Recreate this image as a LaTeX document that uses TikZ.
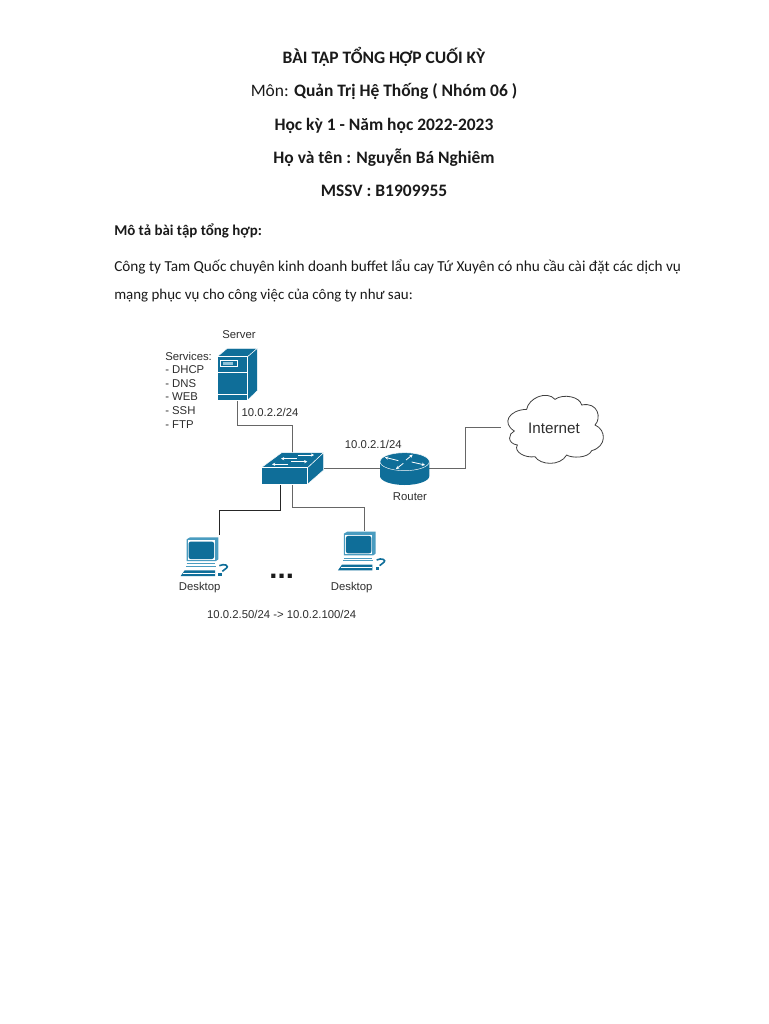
\documentclass[tikz,border=0pt]{standalone}
\usepackage{fontspec}
\setmainfont{Carlito}
\newfontfamily\diagfont{Liberation Sans}
\usetikzlibrary{arrows.meta}
\definecolor{netblue}{HTML}{0F6E99}
\definecolor{netlight}{HTML}{4A9CC0}
\definecolor{wire}{HTML}{666666}
\definecolor{inktext}{HTML}{1A1A1A}
\definecolor{labeltext}{HTML}{2E2E2E}
\tikzset{
  title/.style={anchor=base,inner sep=0pt,font=\fontsize{13.1}{15}\selectfont\bfseries,text=inktext},
  bodytext/.style={anchor=base west,inner sep=0pt,font=\fontsize{11.44}{13}\selectfont,text=inktext},
  netlabel/.style={inner sep=0pt,font=\diagfont\fontsize{8.5}{10}\selectfont,text=labeltext},
  wireline/.style={draw=wire,line width=0.6pt},
  devface/.style={fill=netblue,draw=white,line width=0.35pt,line join=round},
  whitearrow/.style={draw=white,line width=0.6pt,-{Stealth[length=2.4pt,width=2.4pt]}},
}
\newcommand{\desktopicon}{%
  \fill[netlight] (80,118) -- (90,112) -- (175,112) -- (175,178) -- (168,183) -- (80,183) -- cycle;
  \fill[white] (83,121) rectangle (165,180);
  \fill[netblue,rounded corners=1.5pt] (86,125) rectangle (162,177);
  \draw[netlight,line width=0.6pt] (80,191) -- (165,191) (78,199) -- (167,199);
  \fill[netblue] (62,228) -- (74,211) -- (165,211) -- (165,228) -- cycle;
  \draw[white,line width=0.25pt] (70,219) -- (165,219);
  \draw[netblue,line width=1.2pt] (178,197) .. controls (192,190) and (212,196) .. (196,207) -- (187,214);
  \fill[netblue] (175,219) rectangle (186,228);
}
\begin{document}
\begin{tikzpicture}[x=0.75pt,y=-0.75pt]
\useasboundingbox (0,0) rectangle (768,1024);
\fill[white] (0,0) rectangle (768,1024);

% document text
\node[title] (t1) at (384,64) {BÀI TẬP TỔNG HỢP CUỐI KỲ};
\node[title] (t2) at (384,97) {{\mdseries Môn:} Quản Trị Hệ Thống ( Nhóm 06 )};
\node[title] (t3) at (384,130) {Học kỳ 1 - Năm học 2022-2023};
\node[title] (t4) at (384,163) {Họ và tên : Nguyễn Bá Nghiêm};
\node[title] (t5) at (384,196) {MSSV : B1909955};
\node[bodytext,font=\fontsize{11.2}{13}\selectfont\bfseries] (h1) at (114,235) {Mô tả bài tập tổng hợp:};
\node[bodytext] (p1) at (114,271) {Công ty Tam Quốc chuyên kinh doanh buffet lẩu cay Tứ Xuyên có nhu cầu cài đặt các dịch vụ};
\node[bodytext,font=\fontsize{11.2}{13}\selectfont] (p2) at (114,299) {mạng phục vụ cho công việc của công ty như sau:};

% anchors for connectors
\coordinate (srvB) at (237.3,400);
\coordinate (swT) at (292.7,452.7);
\coordinate (swR) at (323.7,468);
\coordinate (swBL) at (280.3,484);
\coordinate (swBR) at (292.7,484);
\coordinate (rtL) at (380,468);
\coordinate (rtR) at (429.3,468);
\coordinate (inetL) at (500.7,427.3);
\coordinate (pcL) at (219.3,535);
\coordinate (pcR) at (364,530.7);

% connectors
\draw[wireline] (srvB) -- (srvB |- 0,425.7) -| (swT);
\draw[wireline] (swR) -- (rtL);
\draw[wireline] (rtR) -- (465,468) |- (inetL);
\draw[wireline,draw=black!85] (swBL) -- (280.3,510) -| (pcL);
\draw[wireline] (swBR) -- (292.7,507.3) -| (pcR);

% server
\begin{scope}[shift={(150,320)},x=0.25pt,y=-0.25pt]
  \path[devface] (202,110) -- (232,85) -- (322,85) -- (293,110) -- cycle;
  \path[devface] (293,110) -- (322,85) -- (322,212) -- (293,240) -- cycle;
  \path[devface] (202,110) rectangle (293,240);
  \draw[white,line width=0.5pt] (202,158) -- (293,158) (202,222) -- (293,222);
  \draw[white,line width=0.5pt] (212,120) rectangle (262,140);
  \fill[netlight!60!white] (220,126) rectangle (248,134);
\end{scope}

% switch
\begin{scope}[shift={(150,320)},x=0.25pt,y=-0.25pt]
  \path[devface] (334,443) -- (395,398) -- (521,398) -- (473,443) -- cycle;
  \path[devface] (473,443) -- (521,398) -- (521,450) -- (473,492) -- cycle;
  \path[devface] (334,443) rectangle (473,492);
  \draw[whitearrow] (440,416) -- (393,416);
  \draw[whitearrow] (445,405) -- (492,405);
  \draw[whitearrow] (415,433) -- (366,433);
  \draw[whitearrow] (423,425) -- (472,425);
\end{scope}

% router
\begin{scope}[shift={(330,380)},x=0.25pt,y=-0.25pt]
  \path[fill=netblue] (150,245) -- (150,288) arc[start angle=180,end angle=0,x radius=74,y radius=27] -- (298,245) -- cycle;
  \path[fill=netblue,draw=white,line width=0.35pt] (224,245) ellipse[x radius=74,y radius=27];
  \draw[whitearrow] (205,242) -- (165,232);
  \draw[whitearrow] (228,240) -- (248,224);
  \draw[whitearrow] (245,246) -- (285,255);
  \draw[whitearrow] (220,250) -- (198,267);
\end{scope}

% cloud
\begin{scope}[shift={(330,380)},x=0.25pt,y=-0.25pt]
  \draw[draw=black!75,line width=0.6pt,fill=white]
    (553,153) .. controls (515,130) and (535,90) .. (590,88)
    .. controls (595,55) and (650,30) .. (675,58)
    .. controls (700,40) and (750,50) .. (755,75)
    .. controls (805,65) and (815,115) .. (795,135)
    .. controls (830,150) and (830,200) .. (785,212)
    .. controls (775,235) and (725,235) .. (710,225)
    .. controls (690,260) and (630,255) .. (615,230)
    .. controls (585,235) and (550,215) .. (562,195)
    .. controls (530,190) and (535,160) .. (553,153) -- cycle;
\end{scope}
\node[netlabel,font=\diagfont\fontsize{11.4}{13}\selectfont] (inet) at (554,428) {Internet};

% desktops
\begin{scope}[shift={(160,500)},x=0.25pt,y=-0.25pt]
  \desktopicon
\end{scope}
\begin{scope}[shift={(317.3,494.3)},x=0.25pt,y=-0.25pt]
  \desktopicon
\end{scope}

% labels
\node[netlabel] (lsrv) at (239,334.7) {Server};
\node[netlabel,anchor=west] (s0) at (165,356) {Services:};
\node[netlabel,anchor=west] (s1) at (165,369.5) {- DHCP};
\node[netlabel,anchor=west] (s2) at (165,383.3) {- DNS};
\node[netlabel,anchor=west] (s3) at (165,397) {- WEB};
\node[netlabel,anchor=west] (s4) at (165,410.7) {- SSH};
\node[netlabel,anchor=west] (s5) at (165,424.7) {- FTP};
\node[netlabel] (ip1) at (270,412.7) {10.0.2.2/24};
\node[netlabel] (ip2) at (373.3,444.7) {10.0.2.1/24};
\node[netlabel] (lrt) at (410,496.7) {Router};
\node[netlabel] (d1) at (199.7,588) {Desktop};
\node[netlabel] (d2) at (351.7,588) {Desktop};
\node[netlabel] (ipr) at (281.7,614) {10.0.2.50/24 -> 10.0.2.100/24};
\node[inner sep=0pt,anchor=base,font=\diagfont\bfseries\fontsize{22}{24}\selectfont,text=inktext] (dots) at (281.7,578) {...};
\end{tikzpicture}
\end{document}
